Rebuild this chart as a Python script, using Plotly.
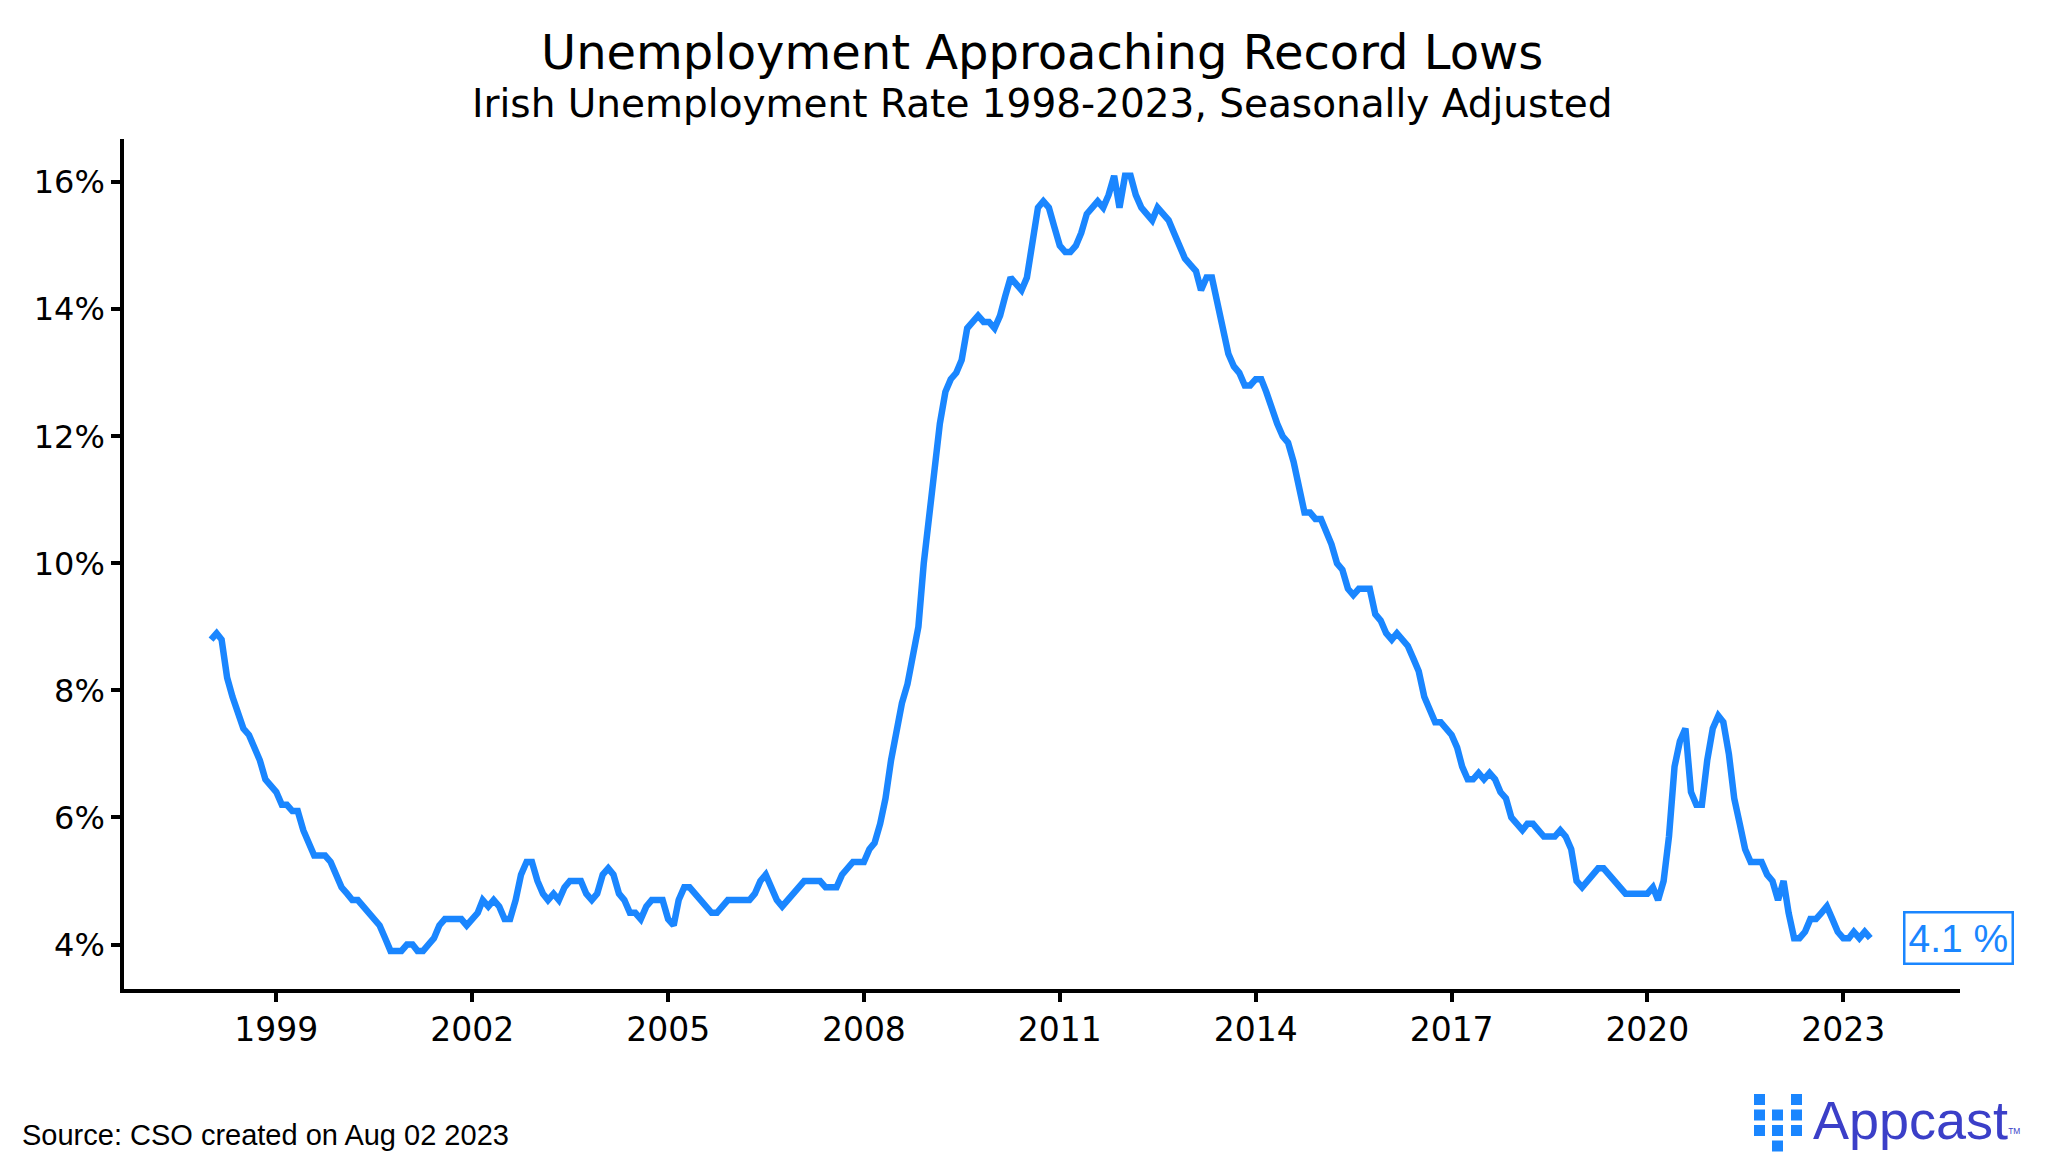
import pandas as pd
import plotly.graph_objects as go

START = "1998-01-01"
RATE = [
    8.8, 8.9, 8.8, 8.2, 7.9, 7.6, 7.4, 7.3, 7.1, 6.9, 6.6, 6.5,
    6.4, 6.2, 6.2, 6.1, 6.1, 5.8, 5.6, 5.4, 5.4, 5.4, 5.3, 5.1,
    4.9, 4.8, 4.7, 4.7, 4.6, 4.5, 4.4, 4.3, 4.1, 3.9, 3.9, 3.9,
    4.0, 4.0, 3.9, 3.9, 4.0, 4.1, 4.3, 4.4, 4.4, 4.4, 4.4, 4.3,
    4.4, 4.5, 4.7, 4.6, 4.7, 4.6, 4.4, 4.4, 4.7, 5.1, 5.3, 5.3,
    5.0, 4.8, 4.7, 4.8, 4.7, 4.9, 5.0, 5.0, 5.0, 4.8, 4.7, 4.8,
    5.1, 5.2, 5.1, 4.8, 4.7, 4.5, 4.5, 4.4, 4.6, 4.7, 4.7, 4.7,
    4.4, 4.3, 4.7, 4.9, 4.9, 4.8, 4.7, 4.6, 4.5, 4.5, 4.6, 4.7,
    4.7, 4.7, 4.7, 4.7, 4.8, 5.0, 5.1, 4.9, 4.7, 4.6, 4.7, 4.8,
    4.9, 5.0, 5.0, 5.0, 5.0, 4.9, 4.9, 4.9, 5.1, 5.2, 5.3, 5.3,
    5.3, 5.5, 5.6, 5.9, 6.3, 6.9, 7.4, 7.8, 8.1, 8.5, 9.0, 10.0,
    10.8, 11.6, 12.2, 12.7, 12.9, 13.0, 13.2, 13.7, 13.8, 13.9, 13.8, 13.8,
    13.7, 13.9, 14.2, 14.5, 14.4, 14.3, 14.5, 15.0, 15.6, 15.7, 15.6, 15.3,
    15.0, 14.9, 14.9, 15.0, 15.2, 15.5, 15.6, 15.7, 15.6, 15.8, 16.1, 15.6,
    16.1, 16.1, 15.8, 15.6, 15.5, 15.4, 15.6, 15.5, 15.4, 15.2, 15.0, 14.8,
    14.7, 14.6, 14.3, 14.5, 14.5, 14.1, 13.6, 13.3, 13.1, 13.0, 12.8, 12.8,
    12.9, 12.9, 12.7, 12.4, 12.2, 12.0, 11.9, 11.6, 11.2, 10.8, 10.8, 10.7,
    10.7, 10.5, 10.3, 10.0, 9.9, 9.6, 9.5, 9.6, 9.6, 9.6, 9.2, 9.1,
    8.9, 8.8, 8.9, 8.8, 8.7, 8.5, 8.3, 7.9, 7.7, 7.5, 7.5, 7.4,
    7.3, 7.1, 6.8, 6.6, 6.6, 6.7, 6.6, 6.7, 6.6, 6.4, 6.3, 6.0,
    5.9, 5.8, 5.9, 5.9, 5.8, 5.7, 5.7, 5.7, 5.8, 5.7, 5.5, 5.0,
    4.9, 5.0, 5.1, 5.2, 5.2, 5.1, 5.0, 4.9, 4.8, 4.8, 4.8, 4.8,
    4.8, 4.9, 4.7, 5.0, 5.7, 6.8, 7.2, 7.4, 6.4, 6.2, 6.2, 6.9,
    7.4, 7.6, 7.5, 7.0, 6.3, 5.9, 5.5, 5.3, 5.3, 5.3, 5.1, 5.0,
    4.7, 5.0, 4.5, 4.1, 4.1, 4.2, 4.4, 4.4, 4.5, 4.6, 4.4, 4.2,
    4.1, 4.1, 4.2, 4.1, 4.2, 4.1,
]
YEAR_TICKS = [1999, 2002, 2005, 2008, 2011, 2014, 2017, 2020, 2023]
PCT_TICKS = [4, 6, 8, 10, 12, 14, 16]

BLUE = "#1a86ff"
W, H = 2048, 1164
L, R, T, B = 116, 96, 131, 183

dates = pd.date_range(START, periods=len(RATE), freq="MS")


def px(x):
    return (x - L) / (W - L - R)


def py(y):
    return (H - B - y) / (H - T - B)


fig = go.Figure()
fig.add_trace(go.Scatter(x=dates, y=RATE, mode="lines",
                         line=dict(color=BLUE, width=6.5), showlegend=False))

fig.update_xaxes(
    range=["1996-09-01", "2024-10-15"],
    tickvals=[pd.Timestamp(f"{y}-01-01") for y in YEAR_TICKS],
    ticktext=[str(y) for y in YEAR_TICKS],
    showline=True, linecolor="black", linewidth=3.5,
    ticks="outside", ticklen=9, tickwidth=3.5, tickcolor="black",
    showgrid=False, zeroline=False,
    tickfont=dict(size=33, color="black", family="DejaVu Sans"),
)
fig.update_yaxes(
    range=[3.3, 16.68],
    tickvals=PCT_TICKS, ticktext=[f"{v}%" for v in PCT_TICKS],
    showline=True, linecolor="black", linewidth=3.5,
    ticks="outside", ticklen=9, tickwidth=3.5, tickcolor="black",
    showgrid=False, zeroline=False,
    tickfont=dict(size=32, color="black", family="DejaVu Sans"),
)

fig.add_annotation(
    x=px(2006), xref="paper", y=RATE[-1], yref="y",
    text=f"{RATE[-1]} %", showarrow=False,
    font=dict(size=39, color=BLUE, family="Liberation Sans"),
    bordercolor=BLUE, borderwidth=2.5, borderpad=3, bgcolor="white",
)

# title + subtitle
fig.add_annotation(x=0.5, xref="paper", y=py(44), yref="paper", yanchor="middle",
                   text="Unemployment Approaching Record Lows", showarrow=False,
                   font=dict(size=48, color="black", family="DejaVu Sans"))
fig.add_annotation(x=0.5, xref="paper", y=py(96), yref="paper", yanchor="middle",
                   text="Irish Unemployment Rate 1998-2023, Seasonally Adjusted",
                   showarrow=False,
                   font=dict(size=39, color="black", family="DejaVu Sans"))

fig.add_annotation(x=px(12), xref="paper", xanchor="left", y=py(1127), yref="paper",
                   yanchor="middle",
                   text="Source: CSO created on Aug 02 2023", showarrow=False,
                   font=dict(size=29, color="black", family="Liberation Sans"))

# Appcast logo
cols = [(1746, [0, 1, 2]), (1764, [1, 2, 3]), (1783, [0, 1, 2])]
for x0, rows in cols:
    for r in rows:
        y0 = 1086 + r * 15.5
        fig.add_shape(type="rect", xref="paper", yref="paper",
                      x0=px(x0), x1=px(x0 + 11), y0=py(y0), y1=py(y0 + 11),
                      fillcolor=BLUE, line_width=0)
fig.add_annotation(x=px(1803), xref="paper", xanchor="left", y=py(1112), yref="paper",
                   yanchor="middle",
                   text="Appcast<span style='font-size:12px'><sup>TM</sup></span>",
                   showarrow=False,
                   font=dict(size=54, color="#3b3fc8", family="Liberation Sans"))

fig.update_layout(
    width=W, height=H,
    margin=dict(l=L, r=R, t=T, b=B),
    plot_bgcolor="white", paper_bgcolor="white",
)

fig.write_html("out.html")
